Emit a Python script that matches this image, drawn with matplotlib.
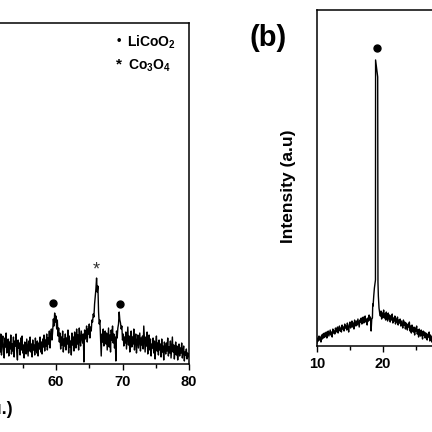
import numpy as np
import matplotlib.pyplot as plt
from matplotlib.ticker import MultipleLocator

plt.rcParams['font.family'] = ['Liberation Sans', 'DejaVu Sans']
plt.rcParams['font.weight'] = 'bold'
plt.rcParams['mathtext.default'] = 'regular'

## Panel (a): scan 51.5 - 80.0 deg, step 0.1
a_two_theta = np.round(np.arange(51.5, 80.05, 0.1), 1)
a_intensity = [
    24, 12, 30, 9, 21, 28, 14, 6, 26, 17,
    31, 11, 19, 25, 8, 22, 15, 29, 10, 20,
    13, 27, 7, 23, 18, 30, 12, 4, 24, 16,
    21, 9, 26, 14, 28, 11, 19, 6, 22, 15,
    10, 25, 17, 8, 23, 13, 27, 12, 20, 7,
    24, 14, 19, 9, 26, 16, 11, 23, 8, 21,
    15, 27, 12, 22, 10, 25, 17, 29, 13, 24,
    18, 30, 14, 26, 20, 33, 16, 28, 35, 24,
    33, 45, 38, 51, 42, 48, 35, 44, 28, 36,
    22, 31, 15, 27, 19, 33, 12, 25, 18, 30,
    14, 26, 20, 34, 11, 28, 17, 23, 9, 31,
    19, 27, 13, 32, 22, 16, 35, 20, 29, 14,
    36, 24, 18, 33, 27, 21, 30, 2, 34, 25,
    28, 38, 22, 35, 30, 40, 26, 37, 33, 44,
    42, 50, 47, 60, 68, 75, 86, 72, 78, 52,
    40, 44, 25, 8, 30, 22, 35, 18, 28, 33,
    20, 31, 14, 26, 36, 17, 29, 12, 34, 24,
    38, 21, 30, 16, 27, 3, 33, 26, 36, 40,
    52, 44, 41, 35, 38, 24, 30, 18, 27, 21,
    32, 15, 26, 37, 19, 28, 12, 24, 33, 17,
    27, 20, 35, 14, 25, 30, 11, 22, 29, 16,
    23, 31, 13, 26, 19, 28, 15, 38, 24, 12,
    27, 18, 32, 10, 22, 29, 14, 25, 8, 20,
    16, 26, 11, 23, 5, 19, 28, 13, 21, 9,
    24, 14, 20, 7, 25, 12, 18, 4, 22, 15,
    10, 21, 13, 26, 8, 17, 11, 23, 6, 16,
    27, 12, 19, 5, 15, 22, 9, 18, 4, 14,
    20, 8, 16, 11, 21, 6, 13, 18, 3, 12,
    9, 15, 5, 11, 7, 10,
]
a_licoo2_x = [59.6, 69.6]
a_licoo2_y = [61, 60]
a_co3o4_x = [66.1]
a_co3o4_y = [94]

## Panel (b): scan 10.0 - 27.6 deg, baseline left/right of the peak + peak points
b_left_x = np.round(np.arange(10.0, 18.35, 0.1), 1)
b_left_y = [
    3, 8, 5, 10, 6, 9, 4, 11, 7, 12,
    8, 13, 9, 11, 14, 8, 12, 15, 10, 13,
    16, 11, 14, 9, 17, 13, 15, 12, 18, 14,
    16, 19, 13, 17, 20, 15, 18, 14, 21, 17,
    19, 15, 22, 18, 20, 16, 23, 19, 14, 21,
    24, 18, 21, 25, 19, 23, 17, 26, 22, 20,
    25, 21, 27, 23, 19, 26, 24, 28, 22, 25,
    29, 23, 26, 30, 24, 27, 21, 28, 25, 31,
    26, 29, 15, 27,
]
b_peak_x = [18.40, 18.45, 18.50, 18.60, 18.70, 18.80, 18.86, 18.88,
            19.20, 19.24, 19.30, 19.40, 19.50]
b_peak_y = [28, 42, 40, 50, 58, 63, 66, 286, 269, 64, 50, 38, 33]
b_right_x = np.round(np.arange(19.6, 27.65, 0.1), 1)
b_right_y = [
    30, 35, 27, 33, 29, 36, 28, 32, 26, 34,
    29, 25, 33, 27, 31, 24, 30, 26, 32, 23,
    28, 25, 30, 22, 27, 24, 29, 21, 26, 23,
    27, 20, 25, 22, 18, 26, 21, 24, 17, 23,
    20, 16, 22, 19, 24, 15, 20, 13, 21, 17,
    14, 19, 11, 18, 15, 20, 12, 16, 9, 17,
    13, 10, 16, 12, 7, 15, 11, 14, 8, 13,
    10, 6, 12, 9, 14, 5, 11, 8, 4, 10,
    7,
]
b_licoo2_x = [19.09]
b_licoo2_y = [298]


def style_axes(ax, ymax):
    ax.set_xlim(10, 80)
    ax.set_ylim(0, ymax)
    ax.xaxis.set_major_locator(MultipleLocator(10))
    ax.xaxis.set_minor_locator(MultipleLocator(5))
    ax.tick_params(axis='x', which='major', direction='out', length=4.5,
                   width=1.0, labelsize=10.5, pad=3.5)
    ax.tick_params(axis='x', which='minor', direction='out', length=3,
                   width=1.0)
    ax.set_yticks([])
    for s in ax.spines.values():
        s.set_linewidth(1.1)


fig = plt.figure(figsize=(4.32, 4.32), dpi=100)

## (a) - only the right part of this panel is inside the picture
ax_a = fig.add_axes([-0.640, 0.1574, 1.0775, 0.789])
ax_a.plot(a_two_theta, a_intensity, color='black', lw=1.0)
ax_a.plot(a_licoo2_x, a_licoo2_y, 'o', color='black', ms=5)
for x, y in zip(a_co3o4_x, a_co3o4_y):
    ax_a.text(x, y, '*', ha='center', va='center', fontsize=13,
              fontweight='normal', color='#333333')
style_axes(ax_a, 341)

fig.text(119 / 432, 1 - 41 / 432, '\u2022', ha='center', va='center',
         fontsize=9)
fig.text(127 / 432, 1 - 42 / 432, r'$\mathregular{LiCoO_2}$', ha='left',
         va='center', fontsize=10, fontweight='bold')
fig.text(119 / 432, 1 - 64 / 432, '*', ha='center', va='center',
         fontsize=11)
fig.text(128 / 432, 1 - 66 / 432, r'$\mathregular{Co_3O_4}$', ha='left',
         va='center', fontsize=10, fontweight='bold')
fig.text(13 / 432, 1 - 410 / 432, '2\u03b8 (a.u.)', ha='right', va='center',
         fontsize=13, fontweight='bold')

## (b) - only the left part of this panel is inside the picture
ax_b = fig.add_axes([0.7338, 0.199, 1.069, 0.778])
b_x = np.concatenate([b_left_x, b_peak_x, b_right_x])
b_y = np.concatenate([b_left_y, b_peak_y, b_right_y])
ax_b.plot(b_x, b_y, color='black', lw=1.0)
ax_b.plot(b_licoo2_x, b_licoo2_y, 'o', color='black', ms=5)
style_axes(ax_b, 336)
ax_b.set_ylabel('Intensity (a.u)', fontsize=12.5, fontweight='bold')
ax_b.yaxis.set_label_coords(-21 / 462, (346 - 186) / 336)

fig.text(268 / 432, 1 - 38 / 432, '(b)', ha='center', va='center',
         fontsize=21, fontweight='bold')

fig.savefig('out.png', dpi=100)
